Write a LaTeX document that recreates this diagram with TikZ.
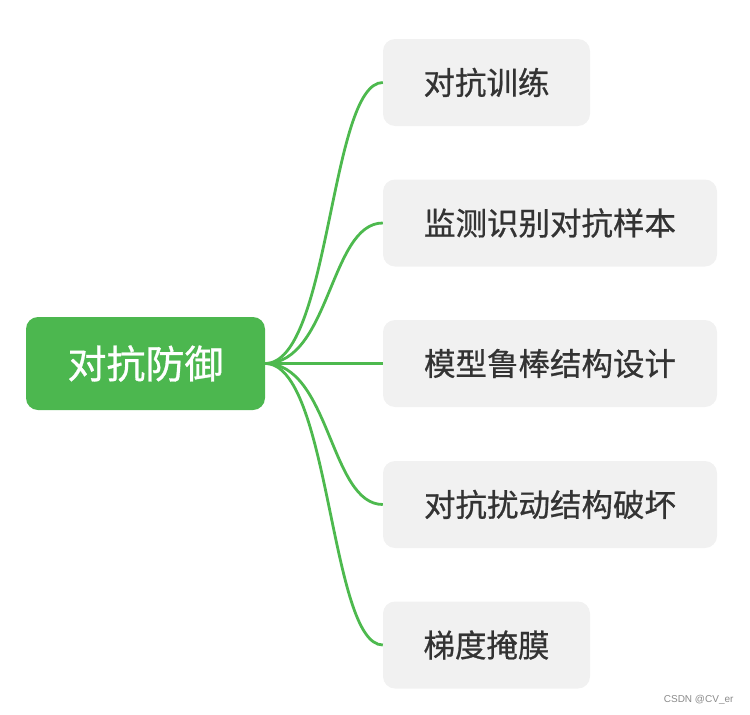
\documentclass[tikz,border=0pt]{standalone}
\usepackage{fontspec}
\setmainfont{Noto Sans CJK SC}
\newfontfamily\medfont{Noto Sans CJK SC}[RawFeature={embolden=0.7}]
\newfontfamily\wmfont{Liberation Sans}
\definecolor{rootgreen}{HTML}{4CB74F}
\definecolor{linegreen}{HTML}{4DB94E}
\definecolor{boxgray}{HTML}{F1F1F1}
\definecolor{txtgray}{HTML}{333333}
\definecolor{wmgray}{HTML}{8A8A8A}
\tikzset{
  rootbox/.style={fill=rootgreen, rounded corners=12pt, text=white, inner sep=0pt,
    minimum width=239pt, minimum height=93pt, font=\medfont\fontsize{39}{39}\selectfont},
  childbox/.style={fill=boxgray, rounded corners=12pt, text=txtgray, inner sep=0pt,
    minimum height=87pt, font=\medfont\fontsize{31.5}{31.5}\selectfont},
  wide/.style={minimum width=334pt},
  narrow/.style={minimum width=207pt},
  conn/.style={draw=linegreen, line width=2.8pt}
}
\begin{document}
\begin{tikzpicture}[x=1pt,y=-1pt]
\useasboundingbox (0,0) rectangle (750,715);
\node[rootbox] (root) at (145.5,363.5) {对抗防御};
\node[childbox,narrow] (c1) at (486.5,82.5) {对抗训练};
\node[childbox,wide] (c2) at (550,223) {监测识别对抗样本};
\node[childbox,wide] (c3) at (550,363.5) {模型鲁棒结构设计};
\node[childbox,wide] (c4) at (550,504.5) {对抗扰动结构破坏};
\node[childbox,narrow] (c5) at (486.5,645) {梯度掩膜};
\foreach \c in {c1,c2,c4,c5}{
  \draw[conn] (root.east) .. controls +(65,0) and +(-53,0) .. (\c.west);
}
\draw[conn] (root.east) -- (c3.west);
\node[text=wmgray, font=\wmfont\fontsize{10}{10}\selectfont, anchor=east] (wm) at (737,700) {CSDN @CV\_er};
\end{tikzpicture}
\end{document}
